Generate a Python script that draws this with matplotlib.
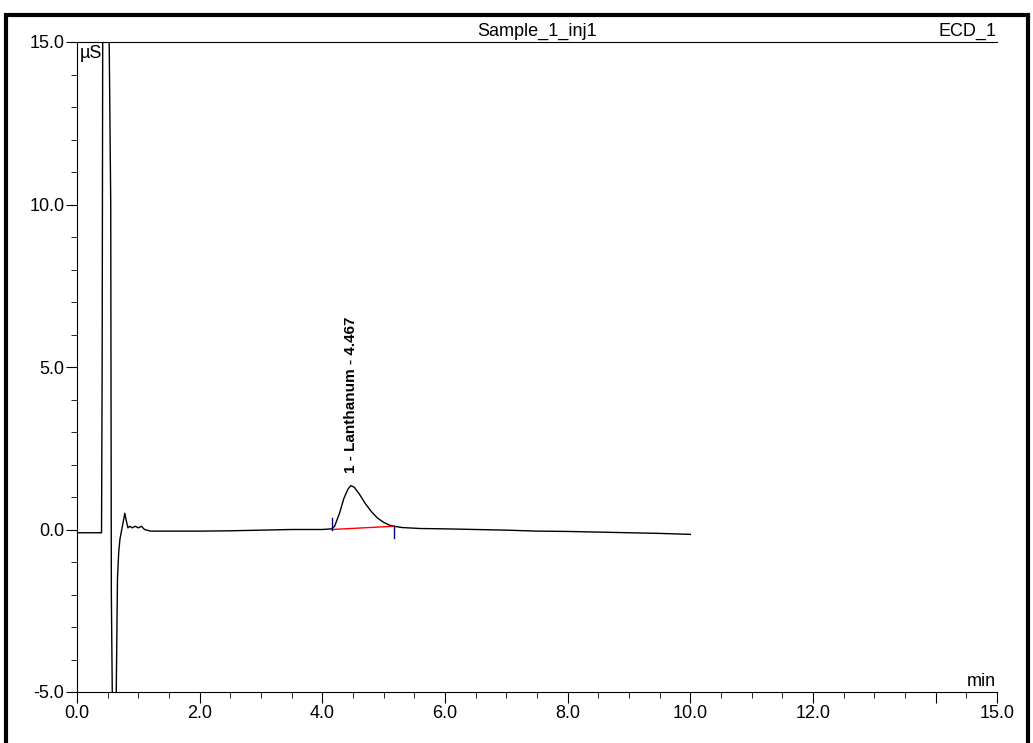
import matplotlib
matplotlib.use("Agg")
import matplotlib.pyplot as plt
from matplotlib.ticker import MultipleLocator

plt.rcParams['font.family'] = ['Liberation Sans', 'DejaVu Sans']

time = [0.0, 0.40, 0.41, 0.42, 0.45, 0.48, 0.52, 0.55, 0.56, 0.58, 0.62, 0.64, 0.66, 0.68, 0.70, 0.72, 0.75, 0.78, 0.80, 0.83, 0.86, 0.90, 0.95, 1.00, 1.05, 1.10, 1.20, 1.5, 2.0, 2.5, 3.0, 3.5, 4.0, 4.15,
        4.20, 4.28, 4.35, 4.42, 4.467, 4.52, 4.60, 4.70, 4.80, 4.90, 5.00, 5.10, 5.17, 5.3, 5.6, 6.0, 6.5, 7.0, 7.5, 8.0, 8.5, 9.0, 9.5, 10.0]
signal = [-0.1, -0.1, 5.0, 16.0, 16.0, 16.0, 16.0, 10.0, -2.0, -6.0, -6.0, -5.0, -1.5, -0.7, -0.3, -0.1, 0.2, 0.5, 0.3, 0.05, 0.1, 0.05, 0.1, 0.05, 0.1, 0.0, -0.05, -0.05, -0.05, -0.04, -0.02, 0.0, 0.0, 0.02,
          0.1, 0.5, 0.95, 1.25, 1.35, 1.3, 1.1, 0.8, 0.55, 0.35, 0.22, 0.13, 0.1, 0.06, 0.03, 0.02, 0.0, -0.02, -0.05, -0.06, -0.08, -0.1, -0.12, -0.15]

peak_rt = 4.467
peak_label = "1 - Lanthanum - 4.467"
base_x = [4.15, 5.17]
base_y = [0.0, 0.1]
x_ticks = [0, 2, 4, 6, 8, 10, 12, 14, 15]
x_labels = ["0.0", "2.0", "4.0", "6.0", "8.0", "10.0", "12.0", "", "15.0"]
y_ticks = [-5, 0, 5, 10, 15]

fig = plt.figure(figsize=(10.33, 7.43), dpi=100)
ax = fig.add_axes([77/1033, 1-692/743, 920/1033, 650/743])
ax.plot(time, signal, color="black", lw=1)
ax.plot(base_x, base_y, color="red", lw=1)
ax.plot([base_x[0]]*2, [base_y[0], base_y[0]+0.35], color="navy", lw=1)
ax.plot([base_x[1]]*2, [base_y[1], base_y[1]-0.35], color="navy", lw=1)
ax.text(peak_rt, 1.75, peak_label, rotation=90, ha="center", va="bottom", fontsize=11, fontweight="bold")

ax.set_xlim(0, 15)
ax.set_ylim(-5, 15)
ax.xaxis.set_minor_locator(MultipleLocator(0.5))
ax.yaxis.set_minor_locator(MultipleLocator(1))
ax.set_xticks(x_ticks)
ax.set_xticklabels(x_labels)
ax.set_yticks(y_ticks)
ax.set_yticklabels([f"{v:.1f}" for v in y_ticks])
ax.tick_params(which="major", direction="out", length=8, labelsize=13, pad=1)
ax.tick_params(which="minor", direction="out", length=4)
ax.spines["right"].set_visible(False)
ax.text(0.003, 0.995, "µS", transform=ax.transAxes, ha="left", va="top", fontsize=13)
ax.text(0.999, 0.003, "min", transform=ax.transAxes, ha="right", va="bottom", fontsize=13)
ax.text(0.5, 1.003, "Sample_1_inj1", transform=ax.transAxes, ha="center", va="bottom", fontsize=13)
ax.text(1.0, 1.003, "ECD_1", transform=ax.transAxes, ha="right", va="bottom", fontsize=13)

fig.add_artist(plt.Rectangle((6/1033, -0.01), 1022/1033, 1-15/743+0.01, transform=fig.transFigure,
                             fill=False, edgecolor="black", lw=3))
fig.savefig("out.png", dpi=100)
